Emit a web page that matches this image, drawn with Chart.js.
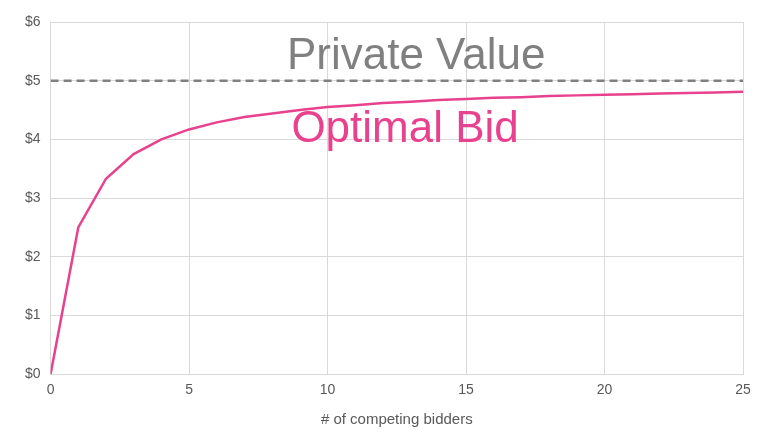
<!DOCTYPE html>
<html>
<head>
<meta charset="utf-8">
<script src="https://cdn.jsdelivr.net/npm/chart.js@4"></script>
<style>
  html, body { margin: 0; padding: 0; background: #fff; }
  #wrap { width: 768px; height: 443px; }
</style>
</head>
<body>
<div id="wrap"><canvas id="bidChart"></canvas></div>
<script>
// --- data ---
const bidders = [0,1,2,3,4,5,6,7,8,9,10,11,12,13,14,15,16,17,18,19,20,21,22,23,24,25];
const optimalBid = [0,2.5,3.33,3.75,4.0,4.17,4.29,4.38,4.44,4.5,4.55,4.58,4.62,4.64,4.67,4.69,4.71,4.72,4.74,4.75,4.76,4.77,4.78,4.79,4.8,4.81];
const privateValue = [5,5];
const privateValueX = [0,25];
const yTicks = [0,1,2,3,4,5,6];

const font = "Liberation Sans, Arial, sans-serif";

// labels on the plot
const labelPlugin = {
  id: 'labels',
  afterDraw(chart) {
    const { ctx, scales: { x, y } } = chart;
    ctx.save();
    ctx.textAlign = 'center';
    ctx.textBaseline = 'middle';
    ctx.font = '44px ' + font;
    ctx.fillStyle = '#808080';
    ctx.fillText('Private Value', x.getPixelForValue(13.2), y.getPixelForValue(5.4));
    ctx.fillStyle = '#e8418e';
    ctx.fillText('Optimal Bid', x.getPixelForValue(12.8), y.getPixelForValue(4.17));
    ctx.restore();
  }
};

new Chart(document.getElementById('bidChart').getContext('2d'), {
  type: 'line',
  data: {
    datasets: [{
      label: 'Optimal Bid',
      data: bidders.map((b, i) => ({ x: b, y: optimalBid[i] })),
      borderColor: '#e8418e',
      borderWidth: 2.5,
      pointRadius: 0,
      tension: 0
    }, {
      label: 'Private Value',
      data: privateValueX.map((b, i) => ({ x: b, y: privateValue[i] })),
      borderColor: '#808080',
      borderWidth: 2.5,
      borderDash: [8, 5],
      pointRadius: 0
    }]
  },
  options: {
    responsive: true,
    maintainAspectRatio: false,
    animation: false,
    layout: { padding: { top: 22, right: 25, left: 15, bottom: 10 } },
    plugins: { legend: { display: false }, tooltip: { enabled: false } },
    scales: {
      x: {
        type: 'linear', min: 0, max: 25,
        ticks: { stepSize: 5, color: '#595959', font: { family: font, size: 14 }, padding: 8 },
        grid: { color: '#d9d9d9', drawTicks: false },
        border: { color: '#d9d9d9' },
        title: { display: true, text: '# of competing bidders', color: '#595959', font: { family: font, size: 15 }, padding: { top: 4 } }
      },
      y: {
        min: 0, max: 6,
        afterBuildTicks: (axis) => { axis.ticks = yTicks.map(v => ({ value: v })); },
        ticks: { color: '#595959', font: { family: font, size: 14 }, callback: v => '$' + v, padding: 10 },
        grid: { color: '#d9d9d9', drawTicks: false },
        border: { display: false }
      }
    }
  },
  plugins: [labelPlugin]
});
</script>
</body>
</html>
